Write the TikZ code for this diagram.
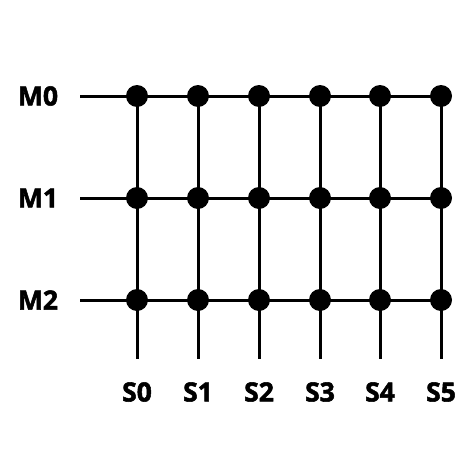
\documentclass[tikz,border=0pt]{standalone}
\usepackage{fontspec}
\setmainfont{Open Sans}[BoldFeatures={FakeBold=2}]
\begin{document}
\begin{tikzpicture}[x=1pt,y=-1pt,
  wire/.style={line width=3pt,black},
  dot/.style={circle,fill=black,inner sep=0pt,minimum size=22pt},
  lbl/.style={font=\fontsize{26.5}{30}\selectfont\bfseries}]
\useasboundingbox (0,0) rectangle (474,474);
\foreach \r/\y in {0/96,1/198,2/300}{
  \coordinate (L\r) at (80,\y);
  \node[lbl] (M\r) at (38,\y) {M\r};
}
\foreach \c/\x in {0/137,1/198,2/259,3/320,4/380,5/441}{
  \coordinate (B\c) at (\x,359);
  \node[lbl] (S\c) at (\x,392) {S\c};
  \foreach \r/\y in {0/96,1/198,2/300}{
    \coordinate (P\r\c) at (\x,\y);
  }
}
\foreach \r in {0,1,2}{ \draw[wire] (L\r) -- (P\r5); }
\foreach \c in {0,...,5}{ \draw[wire] (P0\c) -- (B\c); }
\foreach \r in {0,1,2}{
  \foreach \c in {0,...,5}{
    \node[dot] (D\r\c) at (P\r\c) {};
  }
}
\end{tikzpicture}
\end{document}
